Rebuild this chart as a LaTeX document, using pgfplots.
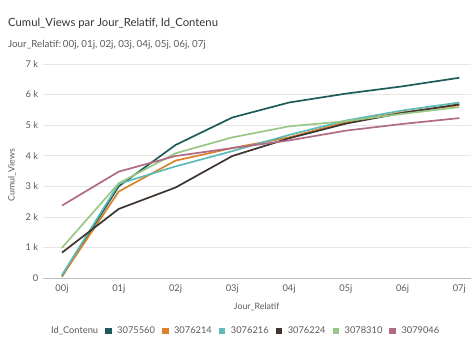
\documentclass[border=0pt]{standalone}
\usepackage{pgfplots}
\pgfplotsset{compat=1.18}
\usepackage{fontspec}
\setmainfont{Lato}
\definecolor{c1}{HTML}{1F5A5A}
\definecolor{c2}{HTML}{D9822B}
\definecolor{c3}{HTML}{5DBAB5}
\definecolor{c4}{HTML}{3E3430}
\definecolor{c5}{HTML}{98C786}
\definecolor{c6}{HTML}{B06A83}
\definecolor{txt}{HTML}{5A5A5A}
\definecolor{gridc}{HTML}{E6E6E6}
\begin{document}
\begin{tikzpicture}
\useasboundingbox (-42.7pt,-65pt) rectangle (431.3pt,278pt);
\node[anchor=west,text=black!80,font=\fontsize{11.3}{13}\selectfont,inner sep=0pt] at (-34.7pt,255pt) {Cumul\_Views par Jour\_Relatif, Id\_Contenu};
\node[anchor=west,text=txt,font=\fontsize{9.8}{11}\selectfont,inner sep=0pt] at (-34.7pt,233pt) {Jour\_Relatif:\,00j, 01j, 02j, 03j, 04j, 05j, 06j, 07j};
\begin{axis}[
  scale only axis, width=428pt, height=214pt,
  xmin=-0.34, xmax=7.2, ymin=0, ymax=7000,
  xtick={0,...,7},
  xticklabels={00j,01j,02j,03j,04j,05j,06j,07j},
  ytick={0,1000,...,7000},
  yticklabels={0,1 k,2 k,3 k,4 k,5 k,6 k,7 k},
  ymajorgrids, xmajorgrids=false, grid style={draw=gridc, line width=0.6pt},
  axis x line*=bottom, axis y line*=left,
  x axis line style={draw=black!25, line width=0.8pt, -},
  y axis line style={draw=none},
  major tick length=0pt,
  tick label style={font=\fontsize{9.3}{11}\selectfont, text=txt},
  yticklabel style={xshift=-1pt},
  xticklabel style={yshift=-3pt},
  /pgf/number format/assume math mode=true,
  xlabel={Jour\_Relatif}, ylabel={Cumul\_Views},
  label style={font=\fontsize{8.8}{10}\selectfont, text=txt},
  xlabel style={at={(axis description cs:0.5,0)}, anchor=center, yshift=-28.5pt},
  ylabel style={at={(axis description cs:0,0.48)}, anchor=center, yshift=30.7pt},
  clip=false,
  every axis plot/.append style={line width=1.7pt, line join=round},
  legend columns=7,
  legend style={draw=none, at={(0.469,-0.248)}, anchor=center, font=\fontsize{9.3}{11}\selectfont, text=txt,
    /tikz/every odd column/.append style={column sep=3.5pt},
    /tikz/every even column/.append style={column sep=5pt}},
  legend image code/.code={\fill[#1,draw=none] (0pt,-3.3pt) rectangle (6.6pt,3.3pt);},
]
\addlegendimage{empty legend}
\addlegendentry{Id\_Contenu\hspace{4pt}}
\addplot[c1] coordinates {(0,50) (1,3000) (2,4350) (3,5250) (4,5740) (5,6030) (6,6270) (7,6550)};
\addlegendentry{3075560}
\addplot[c2] coordinates {(0,60) (1,2830) (2,3840) (3,4250) (4,4600) (5,5100) (6,5420) (7,5650)};
\addlegendentry{3076214}
\addplot[c3] coordinates {(0,100) (1,3080) (2,3650) (3,4150) (4,4680) (5,5150) (6,5480) (7,5740)};
\addlegendentry{3076216}
\addplot[c4] coordinates {(0,830) (1,2260) (2,2960) (3,3990) (4,4570) (5,5050) (6,5400) (7,5680)};
\addlegendentry{3076224}
\addplot[c5] coordinates {(0,990) (1,3100) (2,4080) (3,4600) (4,4960) (5,5130) (6,5370) (7,5590)};
\addlegendentry{3078310}
\addplot[c6] coordinates {(0,2370) (1,3480) (2,3990) (3,4250) (4,4500) (5,4820) (6,5040) (7,5230)};
\addlegendentry{3079046}
\end{axis}
\end{tikzpicture}
\end{document}
